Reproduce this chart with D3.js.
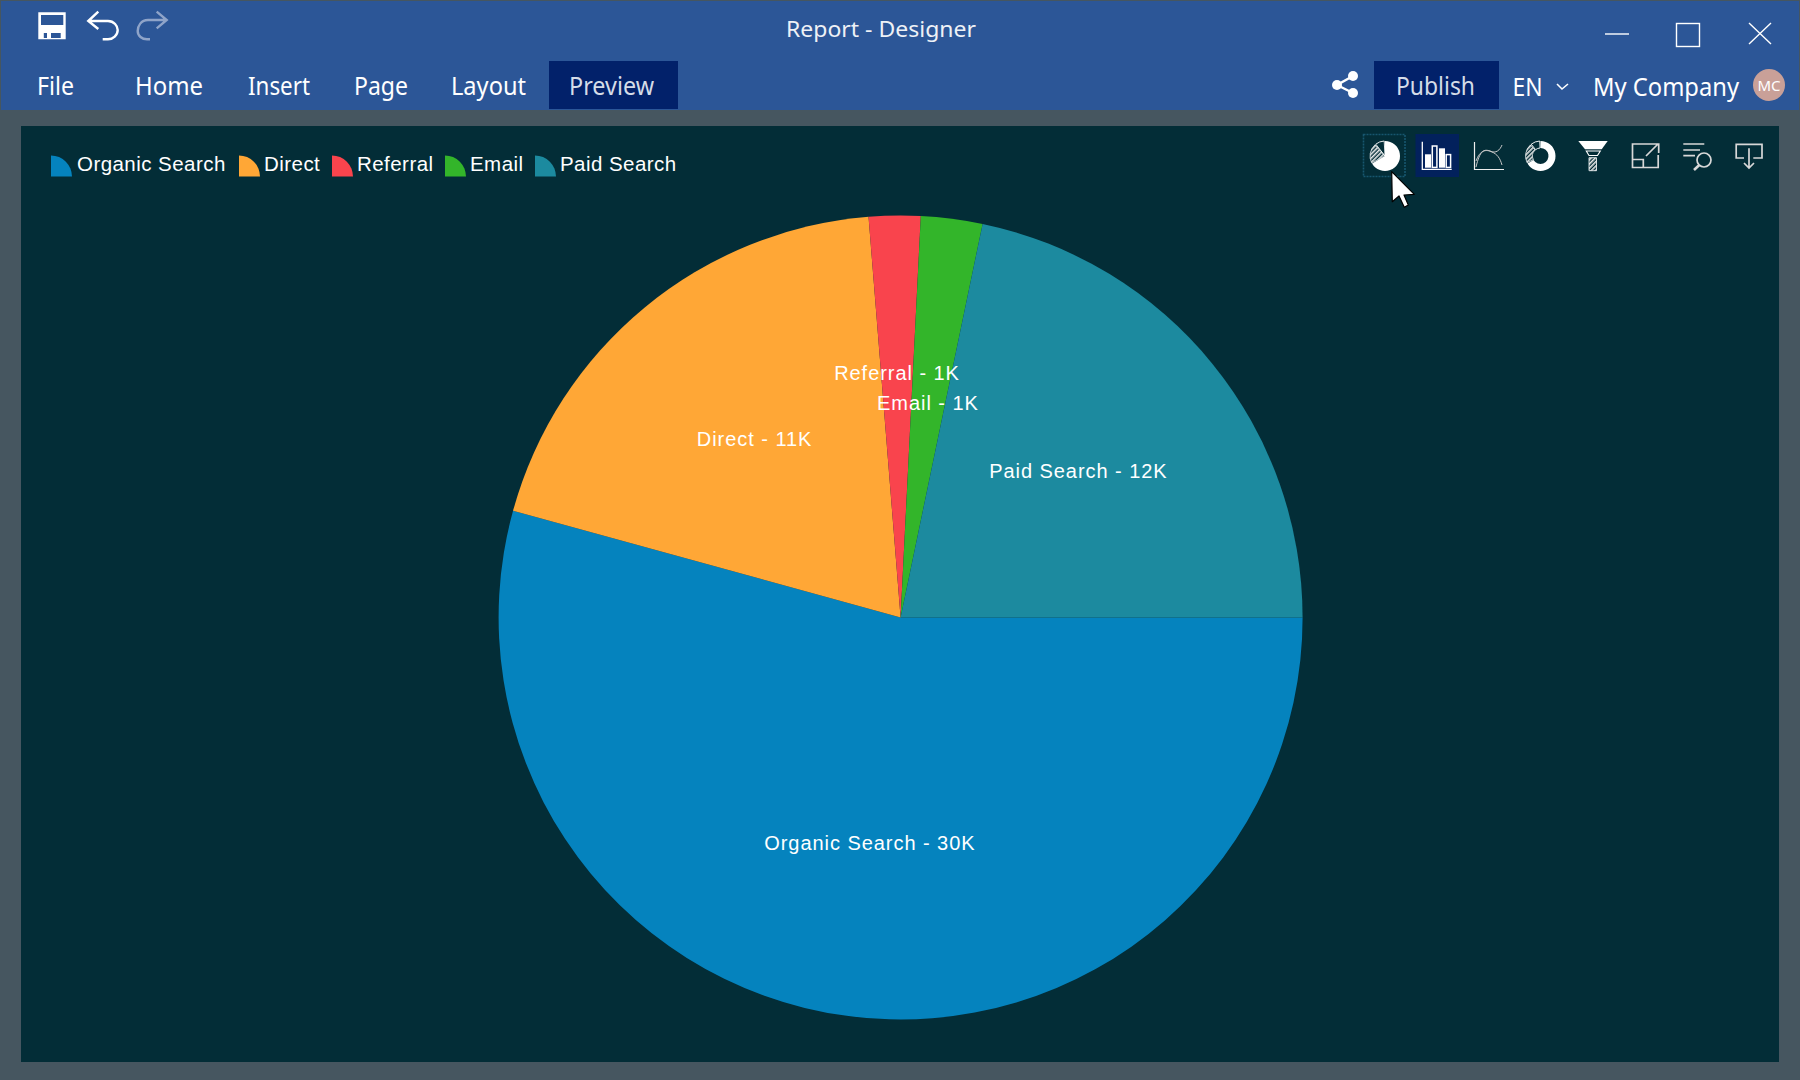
<!DOCTYPE html>
<html><head><meta charset="utf-8"><title>Report - Designer</title>
<script src="https://cdn.jsdelivr.net/npm/d3@7"></script>
<style>html,body{margin:0;padding:0;background:#465660;overflow:hidden}svg{display:block}</style>
</head><body><div id="root"></div>
<script>
// ---- data ----
const categories = ["Organic Search", "Direct", "Referral", "Email", "Paid Search"];
const values = [30000, 10750, 1145, 1365, 12010];
const sliceColors = ["#0583be", "#ffa736", "#f9444d", "#33b52a", "#1c8a9f"];
const menuLabels = ["File", "Home", "Insert", "Page", "Layout", "Preview"];

// ---- layout ----
const W = 1800, H = 1080;
const cx = 900.6, cy = 617.5, R = 402;
const chromeFont = "'Noto Sans','Open Sans',sans-serif";
const chartFont = "'Liberation Sans',Arial,sans-serif";
const svg = d3.select("#root").append("svg").attr("width", W).attr("height", H).attr("viewBox", `0 0 ${W} ${H}`);

const defs = svg.append("defs");
const hatch = defs.append("pattern").attr("id", "hatch").attr("width", 3).attr("height", 3)
  .attr("patternUnits", "userSpaceOnUse").attr("patternTransform", "rotate(45)");
hatch.append("rect").attr("width", 3).attr("height", 3).attr("fill", "#032d37");
hatch.append("rect").attr("width", 1.6).attr("height", 3).attr("fill", "#e8e8e8");

// window frame
svg.append("rect").attr("width", W).attr("height", H).attr("fill", "#465660");
svg.append("rect").attr("x", 1).attr("y", 1).attr("width", W - 2).attr("height", 109).attr("fill", "#2c5697");
svg.append("rect").attr("x", 21).attr("y", 126).attr("width", 1758).attr("height", 936).attr("fill", "#032d37");

// tab highlights
const highlight = svg.append("g").attr("fill", "#02216a");
highlight.append("rect").attr("x", 549).attr("y", 61).attr("width", 129).attr("height", 48);
highlight.append("rect").attr("x", 1374).attr("y", 61).attr("width", 125).attr("height", 48);

function chromeText(str, x, y, size, width, fill) {
  return svg.append("text").text(str).attr("x", x).attr("y", y)
    .attr("font-family", chromeFont).attr("font-size", size).attr("fill", fill || "#fff")
    .attr("textLength", width).attr("lengthAdjust", "spacingAndGlyphs");
}
const menuX = [37, 135, 248, 354, 451, 569], menuW = [37, 68, 62, 54, 75, 85];
menuLabels.forEach((m, i) => chromeText(m, menuX[i], 95, 24.5, menuW[i], i === 5 ? "#d5dce8" : "#fff"));
chromeText("Publish", 1396, 95, 24.5, 79, "#d5dce8");
chromeText("EN", 1512.5, 96, 24.5, 30);
chromeText("My Company", 1593, 96, 24.5, 146);
chromeText("Report - Designer", 786, 37, 22.5, 190, "#eef1f6");

// quick-access icons
const quick = svg.append("g").attr("fill", "none").attr("stroke", "#fff").attr("stroke-width", 2.4);
quick.append("path").attr("fill", "#fff").attr("stroke", "none").attr("fill-rule", "evenodd")
  .attr("d", "M38.3 12.3H65.7V39.3H38.3Z M41 15V25H63.3V15Z M43.8 33V38H47V33Z M51 33V38H60.7V33Z");
quick.append("path").attr("d", "M98.3 11.7L88.3 21L98.3 29 M88.3 21H108C114 21 117.7 26 117.7 30C117.7 35 113 39.3 108 39.3H102.7");
quick.append("path").attr("stroke", "#8fa4c9").attr("d", "M156.7 11.7L166.7 20L156.7 28.3 M166.7 20H148C141 20 137.7 26 137.7 31C137.7 36 142 39.3 147 39.3H150");

// window controls
const winCtl = svg.append("g").attr("fill", "none").attr("stroke", "#fff").attr("stroke-width", 1.4);
winCtl.append("path").attr("d", "M1605 34H1629");
winCtl.append("rect").attr("x", 1676.5).attr("y", 23.5).attr("width", 23).attr("height", 23);
winCtl.append("path").attr("d", "M1749 23L1771 44M1771 23L1749 44");

// share icon, language chevron, avatar
const shareIcon = svg.append("g");
shareIcon.append("path").attr("d", "M1353 76L1337 85L1353 93").attr("fill", "none").attr("stroke", "#fff").attr("stroke-width", 2.4);
[[1337, 85], [1353, 76], [1353, 93]].forEach(p => shareIcon.append("circle").attr("cx", p[0]).attr("cy", p[1]).attr("r", 5).attr("fill", "#fff"));
svg.append("path").attr("d", "M1557 84L1562 89L1568 84").attr("fill", "none").attr("stroke", "#fff").attr("stroke-width", 1.6);
svg.append("circle").attr("cx", 1769).attr("cy", 85).attr("r", 16).attr("fill", "#c9a098");
svg.append("text").text("MC").attr("x", 1769).attr("y", 90.5).attr("text-anchor", "middle")
  .attr("font-family", chromeFont).attr("font-size", 15).attr("fill", "#fff");

// legend
const swatchArc = d3.arc().innerRadius(0).outerRadius(21).startAngle(0).endAngle(Math.PI / 2);
const swatchX = [51, 239, 332, 445, 535], labelX = [77, 264, 357, 470, 560];
const legend = svg.append("g").attr("class", "legend");
categories.forEach((c, i) => {
  legend.append("path").attr("d", swatchArc()).attr("fill", sliceColors[i])
    .attr("transform", `translate(${swatchX[i]},176.5)`);
  legend.append("text").text(c).attr("x", labelX[i]).attr("y", 171)
    .attr("font-family", chartFont).attr("font-size", 20.5).attr("letter-spacing", 0.45).attr("fill", "#fff");
});

// pie: starts at 3 o'clock and runs clockwise in data order
const pie = d3.pie().sort(null).value(d => d).startAngle(Math.PI / 2).endAngle(Math.PI * 2.5);
const arcs = pie(values);
const arc = d3.arc().innerRadius(0).outerRadius(R);
const labelOuter = { "Referral": 1.207, "Email": 1.067 };
const pieGroup = svg.append("g").attr("transform", `translate(${cx},${cy})`);
pieGroup.selectAll("path.slice").data(arcs).join("path").attr("class", "slice")
  .attr("d", arc).attr("fill", (d, i) => sliceColors[i]);
pieGroup.selectAll("text.label").data(arcs).join("text").attr("class", "label")
  .text((d, i) => `${categories[i]} - ${Math.round(d.value / 1000)}K`)
  .attr("transform", (d, i) => {
    const f = labelOuter[categories[i]] || 1.14;
    const c = d3.arc().innerRadius(0).outerRadius(R * f).centroid(d);
    return `translate(${c[0]},${c[1]})`;
  })
  .attr("dy", "0.25em").attr("text-anchor", "middle")
  .attr("font-family", chartFont).attr("font-size", 20).attr("letter-spacing", 0.95).attr("fill", "#fff");

// toolbar
const tb = svg.append("g");
tb.append("rect").attr("x", 1363.5).attr("y", 134.5).attr("width", 41.5).attr("height", 42)
  .attr("fill", "none").attr("stroke", "#17566e").attr("stroke-width", 1.6).attr("stroke-dasharray", "2 1");
tb.append("rect").attr("x", 1415.5).attr("y", 134).attr("width", 43.5).attr("height", 43).attr("fill", "#02215c");

const deg = Math.PI / 180;
function ring(x, y, inner, outer) {
  const g = tb.append("g").attr("transform", `translate(${x},${y})`);
  const a = d3.arc().innerRadius(inner).outerRadius(outer);
  g.append("path").attr("fill", "#fff").attr("d", a({ startAngle: 0, endAngle: 240 * deg }));
  g.append("path").attr("fill", "url(#hatch)").attr("stroke", "#fff").attr("stroke-width", 0.7).attr("d", a({ startAngle: 243 * deg, endAngle: 318 * deg }));
  g.append("path").attr("fill", "none").attr("stroke", "#fff").attr("stroke-width", 0.9).attr("d", a({ startAngle: 322 * deg, endAngle: 357 * deg }));
}
ring(1385, 156, 0, 15);
ring(1540.5, 156, 8, 15);

// bar icon
const bi = tb.append("g").attr("stroke", "#fff").attr("fill", "none");
bi.append("path").attr("stroke-width", 1.3).attr("d", "M1422.3 141.7V169.3H1451.7");
bi.append("rect").attr("x", 1425).attr("y", 154.3).attr("width", 6).attr("height", 13.4).attr("fill", "#fff").attr("stroke", "none");
bi.append("rect").attr("x", 1432.3).attr("y", 146).attr("width", 4.6).attr("height", 21.4).attr("stroke-width", 1.5);
bi.append("rect").attr("x", 1439).attr("y", 148.3).attr("width", 6).attr("height", 19.4).attr("fill", "#fff").attr("stroke", "none");
bi.append("rect").attr("x", 1446.2).attr("y", 154.6).attr("width", 4.4).attr("height", 12.8).attr("stroke-width", 1.5);

// line icon
const li = tb.append("g").attr("stroke", "#c8c8c8").attr("fill", "none").attr("stroke-width", 1);
li.append("path").attr("stroke", "#eee").attr("stroke-width", 1.2).attr("d", "M1474.5 142V169.5H1504");
li.append("path").attr("d", "M1476 167C1480 150 1484 149 1490 151C1496 154 1500 150 1502 145");
li.append("path").attr("d", "M1476 161C1480 150 1486 149 1492 152C1497 154 1500 158 1502 165");

// funnel icon
const fi = tb.append("g");
fi.append("path").attr("fill", "#fff").attr("d", "M1578.3 141H1607.7L1601.7 149.3H1585Z");
fi.append("path").attr("fill", "none").attr("stroke", "#fff").attr("stroke-width", 1.1).attr("d", "M1586.3 151H1600.3L1597.5 155.5H1589Z");
fi.append("path").attr("fill", "url(#hatch)").attr("stroke", "#fff").attr("stroke-width", 0.8).attr("d", "M1589 157.7H1596.5V170.7H1589Z");

// expand icon
const ei = tb.append("g").attr("fill", "none").attr("stroke", "#d8d8d8").attr("stroke-width", 1.7);
ei.append("path").attr("d", "M1650 144H1632.5V167.5H1658.2V155");
ei.append("path").attr("d", "M1632.5 159.5H1643.3V167.5");
ei.append("path").attr("d", "M1646 156L1657.5 144.5M1650 144H1658.7V153");

// search-list icon
const si = tb.append("g").attr("fill", "none").attr("stroke", "#d8d8d8").attr("stroke-width", 1.7);
si.append("path").attr("d", "M1683.3 144H1704.3M1683.3 150H1700M1683.3 155.7H1695");
si.append("circle").attr("cx", 1704).attr("cy", 160).attr("r", 7);
si.append("path").attr("stroke-width", 2.6).attr("d", "M1699.3 165L1694 170");

// download icon
const di = tb.append("g").attr("fill", "none").attr("stroke", "#d8d8d8").attr("stroke-width", 1.7);
di.append("path").attr("d", "M1744 158H1736.2V144.3H1762V158H1753.3");
di.append("path").attr("d", "M1749 148.3V168M1744 163L1749 168L1754 163");

// pointer
svg.append("path").attr("fill", "#fff").attr("stroke", "#000").attr("stroke-width", 1.2)
  .attr("stroke-linejoin", "round")
  .attr("d", "M1391.7 171.7L1392.3 201.7L1399 196L1404.3 207.3L1408.3 205L1404 195L1414.3 194.3Z");
</script></body></html>
